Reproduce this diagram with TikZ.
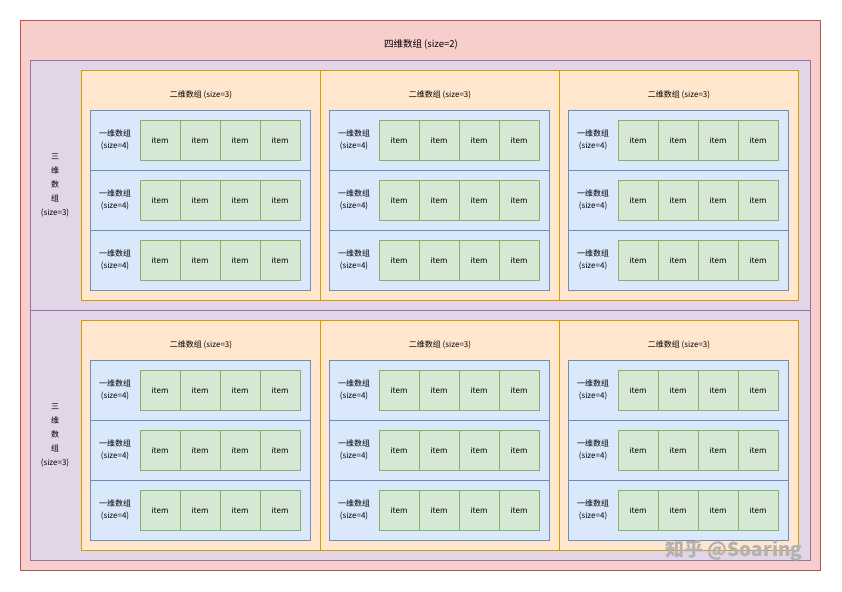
\documentclass[tikz,border=0pt]{standalone}
\usepackage{fontspec}
\setmainfont{Noto Sans CJK SC}
\begin{document}
\begin{tikzpicture}[x=1pt,y=-1pt,
  every node/.style={font=\fontsize{8}{11}\selectfont,align=center,inner sep=0pt}]
\definecolor{rf}{HTML}{F8CECC}\definecolor{rs}{HTML}{B85450}
\definecolor{pf}{HTML}{E1D5E7}\definecolor{ps}{HTML}{9673A6}
\definecolor{of}{HTML}{FFE6CC}\definecolor{os}{HTML}{D79B00}
\definecolor{bf}{HTML}{DAE8FC}\definecolor{bs}{HTML}{6C8EBF}
\definecolor{gf}{HTML}{D5E8D4}\definecolor{gs}{HTML}{82B366}
\tikzset{r4/.style={draw=rs,fill=rf},p3/.style={draw=ps,fill=pf},o2/.style={draw=os,fill=of},
 b1/.style={draw=bs,fill=bf},gi/.style={draw=gs,fill=gf,minimum width=40pt,minimum height=40pt}}
\useasboundingbox (0,0) rectangle (842,591);
\draw[r4] (20,20) rectangle (820,570);
\node (t4) at (421,44) {\fontsize{9.5}{11}\selectfont 四维数组 (size=2)};
\foreach \r/\py in {0/60,1/310}{
  \draw[p3] (30,\py) rectangle (810,\py+250);
  \node[font=\fontsize{8}{14}\selectfont] (t3\r) at (55,\py+125) {三\\维\\数\\组\\(size=3)};
  \foreach \c/\ox in {0/81,1/320,2/559}{
    \draw[o2] (\ox,\py+10) rectangle (\ox+239,\py+240);
    \node (t2\r\c) at (\ox+120,\py+35) {二维数组 (size=3)};
    \foreach \k in {0,1,2}{
      \draw[b1] (\ox+9,\py+50+60*\k) rectangle (\ox+229,\py+110+60*\k);
      \node[font=\fontsize{8}{12}\selectfont] (l\r\c\k) at (\ox+34,\py+80+60*\k) {一维数组\\(size=4)};
      \foreach \i in {0,1,2,3}{
        \node[gi] (i\r\c\k\i) at (\ox+79+40*\i,\py+80+60*\k) {item};
      }
    }
  }
}
\node[text=white!70!black,font=\fontsize{19}{22}\selectfont\bfseries] (wm) at (734,551) {知乎 @Soaring};
\end{tikzpicture}
\end{document}
